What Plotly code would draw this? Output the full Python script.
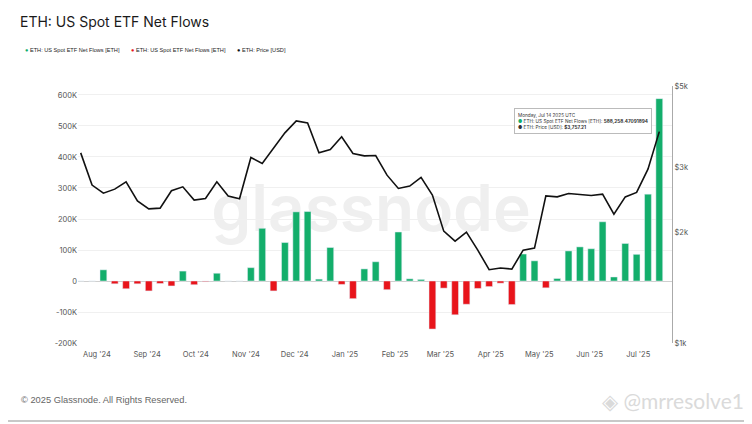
import numpy as np
import pandas as pd
import plotly.graph_objects as go

# weekly data, Monday of each week
dates = pd.date_range('2024-07-22', periods=52, freq='7D')

# ETF net flows [ETH] per week
net_flows = [
    0, 0, 36000, -9000, -25000, -9000, -32000, -8000, -16000, 32000,
    -12000, -2000, 25000, 0, 0, 43000, 170000, -32000, 124000, 223000,
    224000, 6000, 108000, -11000, -57000, 39000, 62000, -28000, 158000, 7000,
    5000, -155000, -23000, -109000, -75000, -24000, -18000, -7000, -76000, 87000,
    65000, -22000, 8000, 97000, 110000, 104000, 191000, 13000, 121000, 86000,
    280000, 588258.47091894,
]

# ETH price [USD]
eth_price = [
    3289, 2688, 2556, 2621, 2744, 2436, 2317, 2327, 2594, 2659,
    2447, 2473, 2744, 2509, 2467, 3196, 3078, 3394, 3729, 4019,
    3969, 3289, 3360, 3637, 3277, 3228, 3236, 2861, 2633, 2671,
    2822, 2525, 2015, 1893, 2002, 1789, 1582, 1599, 1589, 1789,
    1812, 2513, 2497, 2551, 2540, 2519, 2540, 2241, 2497, 2567,
    2971, 3757.21,
]

flow_ticks = [-200000, -100000, 0, 100000, 200000, 300000, 400000, 500000, 600000]
flow_tick_text = ['-200K', '-100K', '0', '100K', '200K', '300K', '400K', '500K', '600K']
price_ticks = [1000, 2000, 3000, 5000]
price_tick_text = ['$1k', '$2k', '$3k', '$5k']

GREEN = '#13ae6b'
RED = '#e8141b'
FONT = 'Inter'

# page body has an 8px margin, so the figure is drawn 8px smaller and the
# pixel positions below are given in window coordinates
OFF = 8
W, H = 752 - OFF, 424 - OFF
ML, MR, MT, MB = 78 - OFF, 80, 86 - OFF, 81
PW, PH = W - ML - MR, H - MT - MB


def px_x(px):
    return (px - OFF - ML) / PW


def px_y(py):
    return (H - MB - (py - OFF)) / PH


inflows = [v if v >= 0 else None for v in net_flows]
outflows = [v if v < 0 else None for v in net_flows]
bar_w = 4.2 * 86400000

fig = go.Figure()

fig.add_trace(go.Bar(x=dates, y=inflows, marker_color=GREEN, width=bar_w,
                     name='ETH: US Spot ETF Net Flows [ETH]'))
fig.add_trace(go.Bar(x=dates, y=outflows, marker_color=RED, width=bar_w,
                     name='ETH: US Spot ETF Net Flows [ETH]'))
fig.add_trace(go.Scatter(x=dates, y=eth_price, mode='lines', yaxis='y2',
                         line=dict(color='#111111', width=1.6),
                         name='ETH: Price [USD]'))

annotations = []

# legend drawn as text with dots
legend_items = [
    (23, GREEN, 'ETH: US Spot ETF Net Flows [ETH]'),
    (129, RED, 'ETH: US Spot ETF Net Flows [ETH]'),
    (235, '#111111', 'ETH: Price [USD]'),
]
for lx, col, txt in legend_items:
    annotations.append(dict(
        x=px_x(lx), y=px_y(50), xref='paper', yref='paper',
        xanchor='left', yanchor='middle', showarrow=False,
        text=f"<span style='color:{col}'>●</span> {txt}",
        font=dict(family='Liberation Sans', size=5.6, color='#222222'),
    ))

# hover box of the last week
last_day = dates[-1].strftime('%A, %b %d %Y') + ' UTC'
tip = (f"{last_day}<br>"
       f"<span style='color:{GREEN}'>●</span> ETH: US Spot ETF Net Flows [ETH]: "
       f"<b>{net_flows[-1]:,.8f}</b><br>"
       f"● ETH: Price [USD]: <b>${eth_price[-1]:,.2f}</b>")
annotations.append(dict(
    x=px_x(514), y=px_y(108), xref='paper', yref='paper',
    xanchor='left', yanchor='top', showarrow=False, align='left',
    text=tip, bgcolor='white', bordercolor='#bbbbbb', borderwidth=1, borderpad=3,
    font=dict(family=FONT, size=4.7, color='#333333'),
))

# footer
annotations.append(dict(
    x=px_x(19), y=px_y(400), xref='paper', yref='paper',
    xanchor='left', yanchor='middle', showarrow=False,
    text='© 2025 Glassnode. All Rights Reserved.',
    font=dict(family='Liberation Sans', size=9.3, color='#666666'),
))
annotations.append(dict(
    x=px_x(746), y=px_y(400), xref='paper', yref='paper',
    xanchor='right', yanchor='middle', showarrow=False,
    text='◈ @mrresolve1',
    font=dict(family='Lato', size=21, color='#dadada'),
))

shapes = [
    # glassnode watermark behind the bars
    dict(type='rect', xref='paper', yref='paper', layer='below',
         x0=px_x(205), x1=px_x(537), y0=px_y(240), y1=px_y(170),
         line=dict(width=0), fillcolor='rgba(0,0,0,0)',
         label=dict(text='glassnode', textposition='middle center',
                    font=dict(family=FONT, size=64, weight=600, color='#efefef'))),
    # screenshot frame (right and bottom edges)
    dict(type='line', xref='paper', yref='paper',
         x0=px_x(750), x1=px_x(750), y0=px_y(421), y1=px_y(OFF),
         line=dict(color='#c8c8c8', width=2)),
    dict(type='line', xref='paper', yref='paper',
         x0=px_x(OFF), x1=px_x(750), y0=px_y(421), y1=px_y(421),
         line=dict(color='#c8c8c8', width=2)),
]

fig.update_layout(
    width=W, height=H,
    margin=dict(l=ML, r=MR, t=MT, b=MB),
    paper_bgcolor='white', plot_bgcolor='white',
    barmode='overlay', showlegend=False,
    title=dict(text='ETH: US Spot ETF Net Flows', x=(20 - OFF) / W, xanchor='left',
               y=1 - (22 - OFF) / H, yanchor='middle',
               font=dict(family=FONT, size=14, color='#1a1a1a')),
    font=dict(family=FONT, size=7.5, color='#555555'),
    xaxis=dict(type='date', range=['2024-07-20 08:00', '2025-07-21 20:00'],
               tick0='2024-08-01', dtick='M1', tickformat="%b '%y",
               showgrid=False, zeroline=False, showline=False,
               ticks='outside', ticklen=4, tickcolor='white'),
    yaxis=dict(range=[-200000, 629000], tickvals=flow_ticks, ticktext=flow_tick_text,
               gridcolor='#f0f0f0', zeroline=True, zerolinecolor='#cfcfcf',
               zerolinewidth=1, showline=False),
    yaxis2=dict(type='log', overlaying='y', side='right',
                range=[3, np.log10(5000)], tickvals=price_ticks, ticktext=price_tick_text,
                showgrid=False, zeroline=False, showline=True,
                linecolor='#aaaaaa', linewidth=1),
    annotations=annotations,
    shapes=shapes,
)

fig.write_html("out.html")
